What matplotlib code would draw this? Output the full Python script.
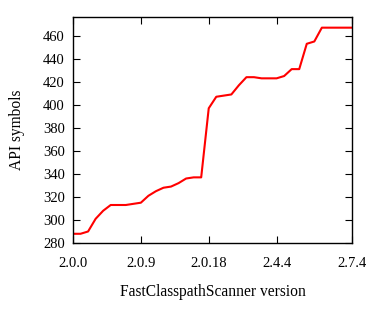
import matplotlib
matplotlib.use("Agg")
import matplotlib.pyplot as plt

# API symbol counts per release
api_symbols = [288, 288, 290, 301, 308, 313, 313, 313, 314, 315,
               321, 325, 328, 329, 332, 336, 337, 337, 397, 407,
               408, 409, 417, 424, 424, 423, 423, 423, 425, 431,
               431, 453, 455, 467, 467, 467, 467, 467]
tick_pos = [0, 9, 18, 27, 37]
tick_labels = ["2.0.0", "2.0.9", "2.0.18", "2.4.4", "2.7.4"]
y_ticks = list(range(280, 461, 20))

plt.rcParams['font.family'] = ['Liberation Serif', 'DejaVu Serif']
plt.rcParams['font.size'] = 10.5

fig = plt.figure(figsize=(3.79, 3.09), dpi=100)
ax = fig.add_axes([0.1926, 0.2136, 0.7362, 0.7304])

ax.plot(range(len(api_symbols)), api_symbols, color='#ff0000', linewidth=1.5)

ax.set_xlim(0, len(api_symbols) - 1)
ax.set_ylim(280, 476)
ax.set_xticks(tick_pos)
ax.set_xticklabels(tick_labels)
ax.set_yticks(y_ticks)
ax.tick_params(direction='in', length=5, width=0.8, top=True, right=True)
ax.tick_params(axis='x', pad=10)
ax.tick_params(axis='y', pad=6)
for s in ax.spines.values():
    s.set_linewidth(1.0)

ax.set_xlabel('FastClasspathScanner version', fontsize=11.2, labelpad=10)
ax.set_ylabel('API symbols', fontsize=11.2, labelpad=13)

fig.savefig('out.png', dpi=100)
